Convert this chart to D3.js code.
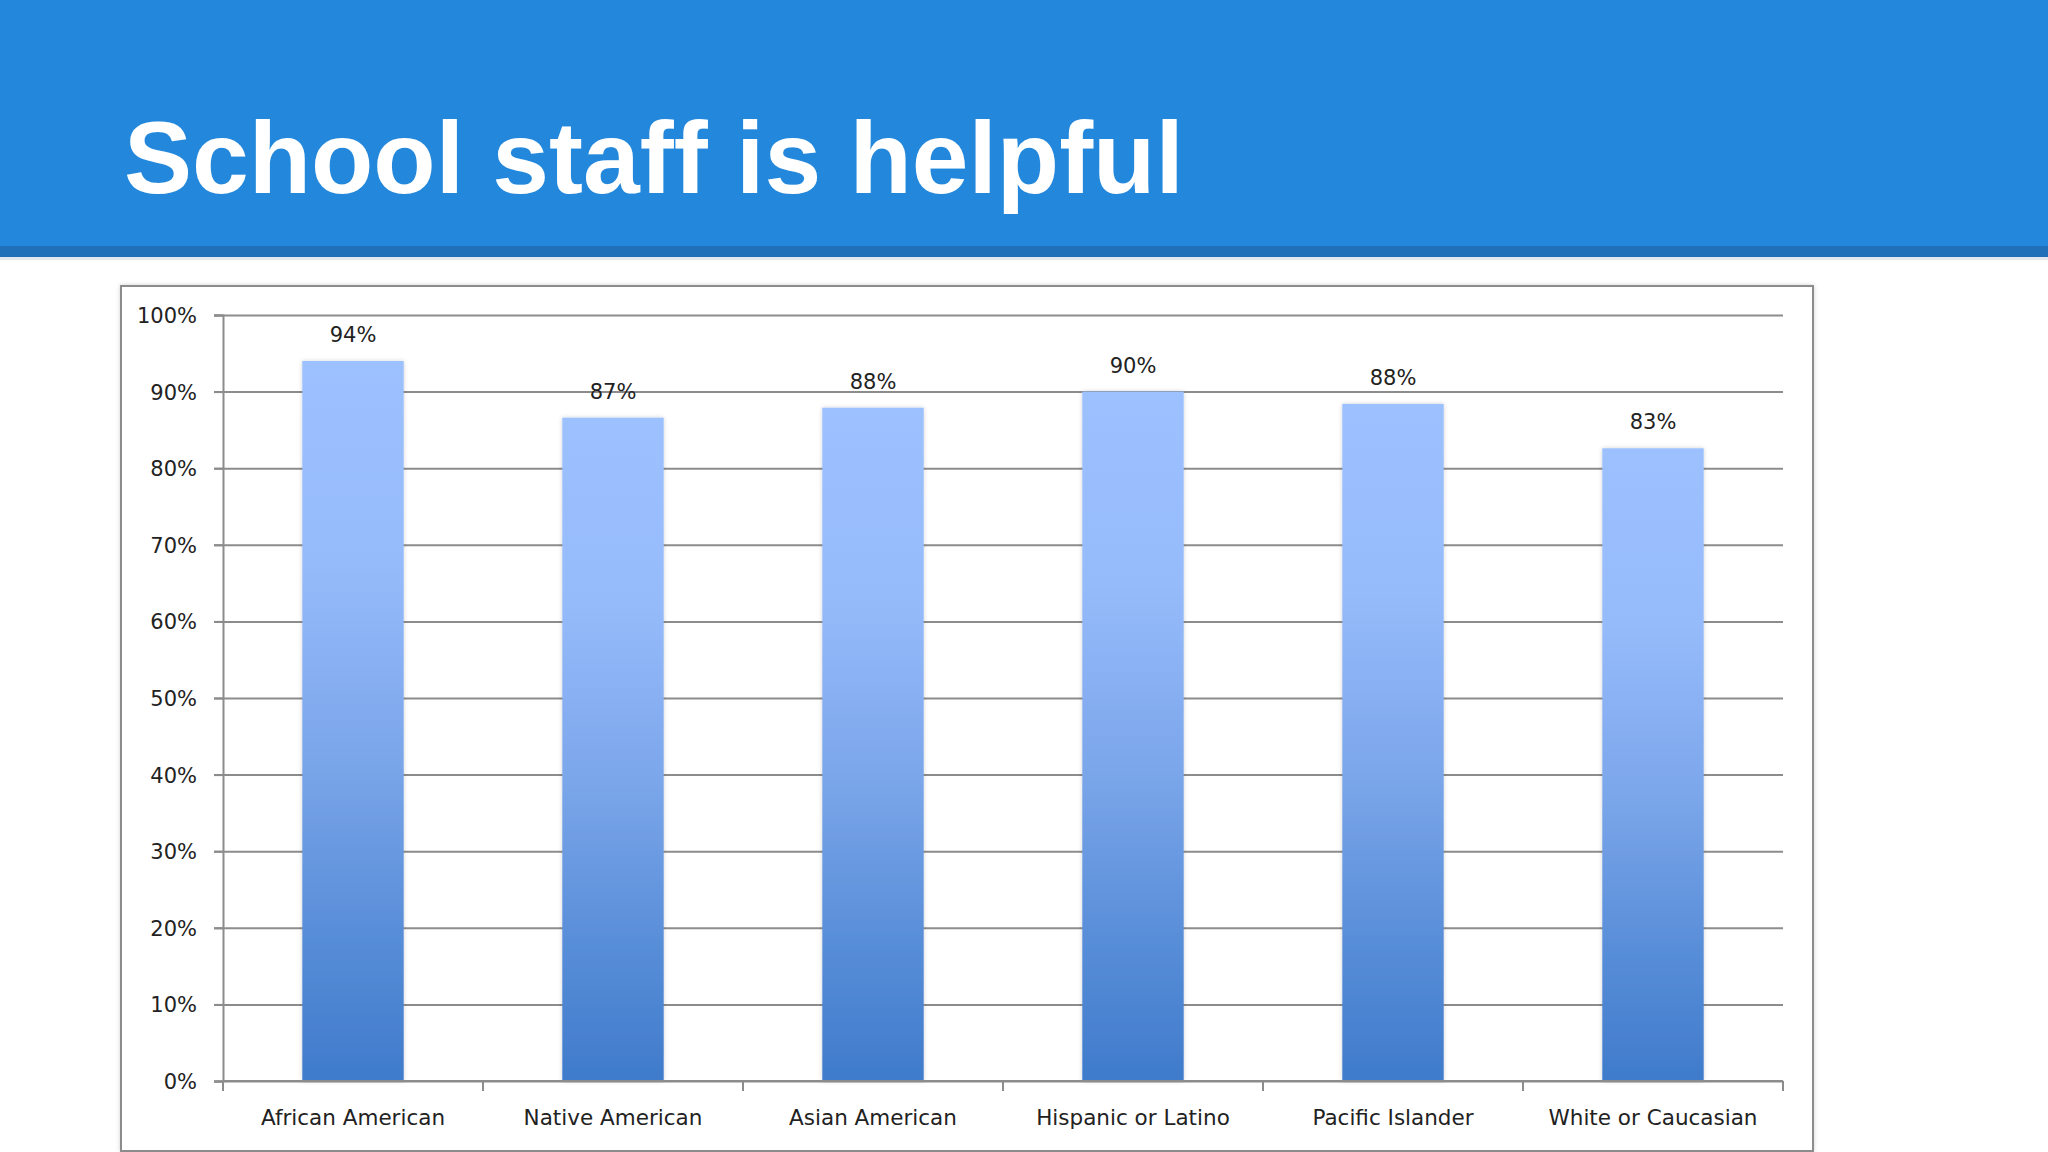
<!DOCTYPE html>
<html>
<head>
<meta charset="utf-8">
<script src="https://cdn.jsdelivr.net/npm/d3@7"></script>
<style>
  html, body { margin: 0; padding: 0; background: #fff; }
  svg { display: block; }
</style>
</head>
<body>
<div id="chart"></div>
<script>
// data
const categories = ["African American", "Native American", "Asian American",
                    "Hispanic or Latino", "Pacific Islander", "White or Caucasian"];
const shares = [0.94, 0.866, 0.879, 0.90, 0.884, 0.826];
const yTicks = [0, 0.1, 0.2, 0.3, 0.4, 0.5, 0.6, 0.7, 0.8, 0.9, 1.0];
const title = "School staff is helpful";

const W = 2048, H = 1152;
const labelFont = "'DejaVu Sans', Verdana, sans-serif";

const svg = d3.select("#chart").append("svg")
  .attr("width", W).attr("height", H);

const defs = svg.append("defs");
const grad = defs.append("linearGradient")
  .attr("id", "barFill")
  .attr("x1", 0).attr("y1", 0).attr("x2", 0).attr("y2", 1);
grad.append("stop").attr("offset", "0%").attr("stop-color", "#9dc1ff");
grad.append("stop").attr("offset", "28%").attr("stop-color", "#96bbfb");
grad.append("stop").attr("offset", "55%").attr("stop-color", "#7ba6ea");
grad.append("stop").attr("offset", "78%").attr("stop-color", "#5a8fd9");
grad.append("stop").attr("offset", "100%").attr("stop-color", "#3f7bcb");

const shadow = defs.append("filter").attr("id", "soft")
  .attr("x", "-10%").attr("y", "-10%").attr("width", "120%").attr("height", "120%");
shadow.append("feDropShadow")
  .attr("dx", 0).attr("dy", 0).attr("stdDeviation", 2)
  .attr("flood-color", "#000").attr("flood-opacity", 0.18);

// header band
svg.append("rect").attr("x", 0).attr("y", 0).attr("width", W).attr("height", 246)
  .attr("fill", "#2388db");
svg.append("rect").attr("x", 0).attr("y", 246).attr("width", W).attr("height", 11)
  .attr("fill", "#1f6fb9");
svg.append("rect").attr("x", 0).attr("y", 257).attr("width", W).attr("height", 3)
  .attr("fill", "#e4e8ee");

svg.append("text")
  .attr("x", 124).attr("y", 193)
  .attr("font-family", "'Liberation Sans', Arial, sans-serif")
  .attr("font-weight", "bold")
  .attr("font-size", 102)
  .attr("fill", "#fff")
  .text(title);

// chart frame
svg.append("rect")
  .attr("x", 121).attr("y", 286).attr("width", 1692).attr("height", 865)
  .attr("fill", "#fff").attr("stroke", "#8c8c8c").attr("stroke-width", 2)
  .attr("filter", "url(#soft)");

const margin = {left: 223, right: W - 1783, top: 315, bottom: H - 1081};

const x = d3.scaleBand()
  .domain(categories)
  .range([margin.left, W - margin.right])
  .paddingInner(0.61).paddingOuter(0.305);

const xTicks = d3.scaleBand().domain(categories).range(x.range());

const y = d3.scaleLinear()
  .domain([0, 1])
  .range([H - margin.bottom, margin.top]);

// gridlines + y axis
const yAxis = svg.append("g")
  .attr("transform", `translate(${margin.left},0)`)
  .call(d3.axisLeft(y).tickValues(yTicks).tickFormat(d3.format(".0%"))
    .tickSize(9).tickPadding(17));
yAxis.select(".domain").attr("stroke", "#8c8c8c").attr("stroke-width", 2);
yAxis.selectAll(".tick line").attr("stroke", "#8c8c8c").attr("stroke-width", 2)
  .attr("x1", W - margin.right - margin.left);
yAxis.selectAll(".tick line").clone()
  .attr("x1", -9).attr("x2", 0);
yAxis.selectAll(".tick text")
  .attr("font-family", labelFont).attr("font-size", 21).attr("fill", "#222");
yAxis.selectAll(".tick text").attr("dy", "0.36em");

// bars
svg.append("g").selectAll("rect")
  .data(categories)
  .join("rect")
    .attr("x", d => x(d))
    .attr("y", (d, i) => y(shares[i]))
    .attr("width", x.bandwidth())
    .attr("height", (d, i) => y(0) - y(shares[i]))
    .attr("fill", "url(#barFill)")
    .attr("filter", "url(#soft)");

// value labels
svg.append("g").selectAll("text")
  .data(categories)
  .join("text")
    .attr("x", d => x(d) + x.bandwidth() / 2)
    .attr("y", (d, i) => y(shares[i]) - 19)
    .attr("text-anchor", "middle")
    .attr("font-family", labelFont).attr("font-size", 21).attr("fill", "#222")
    .text((d, i) => d3.format(".0%")(shares[i]));

// x axis with category boundaries as ticks
const xAxis = svg.append("g")
  .attr("transform", `translate(0,${y(0)})`);
xAxis.append("line")
  .attr("x1", margin.left).attr("x2", W - margin.right)
  .attr("stroke", "#8c8c8c").attr("stroke-width", 2);
xAxis.selectAll("line.tk")
  .data(categories.concat(["end"]))
  .join("line")
    .attr("class", "tk")
    .attr("x1", (d, i) => margin.left + i * xTicks.step())
    .attr("x2", (d, i) => margin.left + i * xTicks.step())
    .attr("y1", 0).attr("y2", 10)
    .attr("stroke", "#8c8c8c").attr("stroke-width", 2);
xAxis.selectAll("text")
  .data(categories)
  .join("text")
    .attr("x", d => xTicks(d) + xTicks.bandwidth() / 2)
    .attr("y", 44)
    .attr("text-anchor", "middle")
    .attr("font-family", labelFont).attr("font-size", 21.5).attr("fill", "#222")
    .text(d => d);
</script>
</body>
</html>
